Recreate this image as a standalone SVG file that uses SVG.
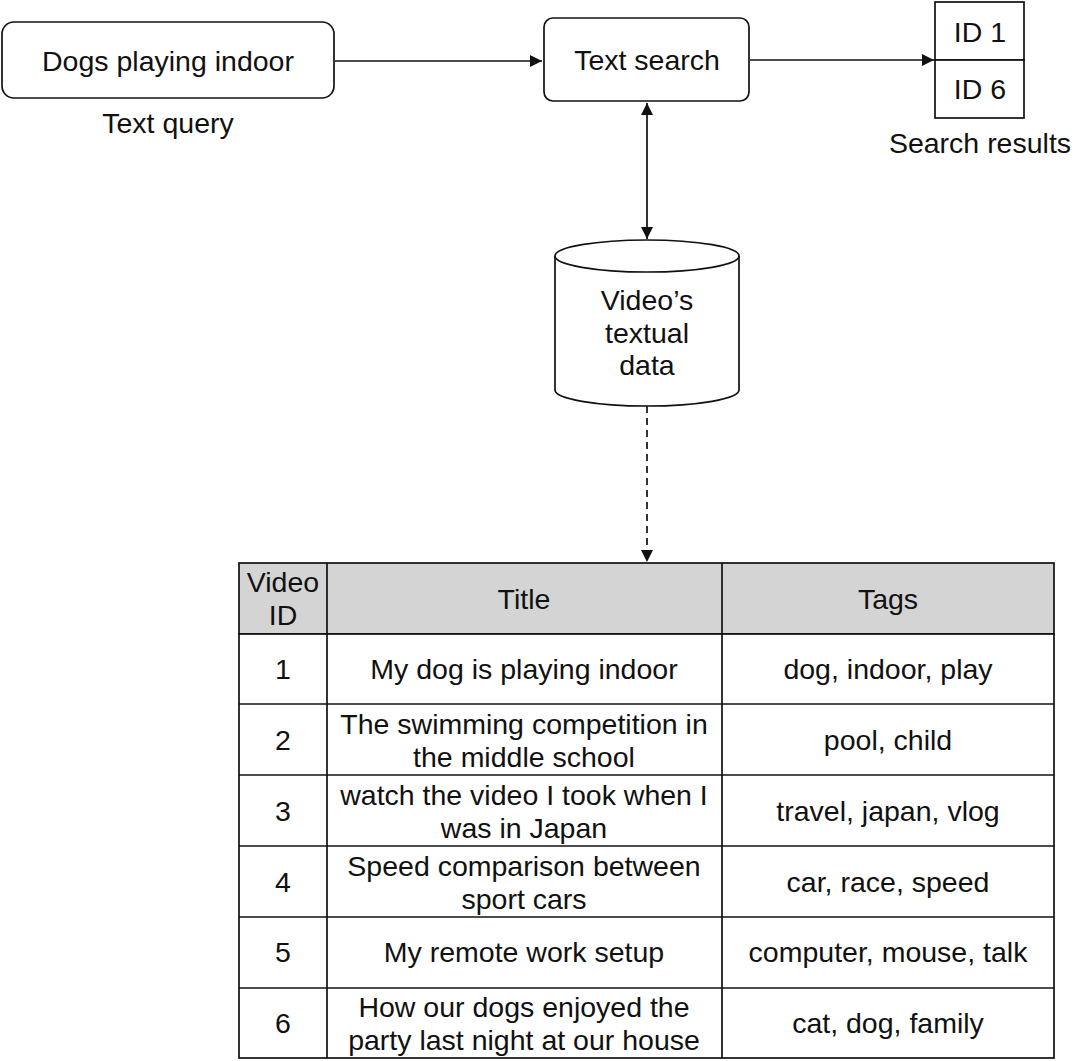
<svg xmlns="http://www.w3.org/2000/svg" width="1080" height="1061" viewBox="0 0 1080 1061">
<defs>
<style>
.t{font-family:"Liberation Sans",Arial,Helvetica,sans-serif;font-size:28.5px;fill:#111;text-anchor:middle}
.b{fill:#fff;stroke:#111;stroke-width:1.7}
.l{fill:none;stroke:#111;stroke-width:1.7}
.h{fill:#d4d4d4;stroke:#111;stroke-width:1.7}
</style>
<marker id="ahs" viewBox="0 0 10 10" refX="10" refY="5" markerWidth="13" markerHeight="12" markerUnits="userSpaceOnUse" orient="auto-start-reverse">
<path d="M0,0 L10,5 L0,10 z" fill="#111"/>
</marker>
</defs>
<rect width="1080" height="1061" fill="#fff"/>
<g id="connectors">
<line class="l" x1="335" y1="61" x2="542" y2="61" marker-end="url(#ahs)"/>
<line class="l" x1="750" y1="60" x2="934" y2="60" marker-end="url(#ahs)"/>
<line class="l" x1="647" y1="103" x2="647" y2="239" marker-start="url(#ahs)" marker-end="url(#ahs)"/>
<line class="l" x1="647" y1="406" x2="647" y2="562" stroke-dasharray="7,5" marker-end="url(#ahs)"/>
</g>
<g id="query">
<rect class="b" x="2" y="22" width="332" height="76" rx="12"/>
<text class="t" x="168" y="71">Dogs playing indoor</text>
<text class="t" x="168" y="133">Text query</text>
</g>
<g id="search">
<rect class="b" x="544" y="18" width="205" height="83" rx="9"/>
<text class="t" x="647" y="70">Text search</text>
</g>
<g id="results">
<rect class="b" x="935" y="2" width="89" height="58"/>
<rect class="b" x="935" y="60" width="89" height="58"/>
<text class="t" x="980" y="42">ID 1</text>
<text class="t" x="980" y="99">ID 6</text>
<text class="t" x="980" y="153">Search results</text>
</g>
<g id="database">
<path class="b" d="M555,256 L555,390 A92,16 0 0 0 739,390 L739,256"/>
<ellipse class="b" cx="647" cy="256" rx="92" ry="16"/>
<text class="t" x="647" y="310">Video’s</text>
<text class="t" x="647" y="343">textual</text>
<text class="t" x="647" y="375">data</text>
</g>
<g id="table">
<rect class="h" x="239" y="563" width="815" height="71"/>
<rect class="b" x="239" y="634" width="815" height="424"/>
<line class="l" x1="327" y1="563" x2="327" y2="1058"/>
<line class="l" x1="722" y1="563" x2="722" y2="1058"/>
<line class="l" x1="239" y1="704" x2="1054" y2="704"/>
<line class="l" x1="239" y1="775" x2="1054" y2="775"/>
<line class="l" x1="239" y1="846" x2="1054" y2="846"/>
<line class="l" x1="239" y1="917" x2="1054" y2="917"/>
<line class="l" x1="239" y1="988" x2="1054" y2="988"/>
<text class="t" x="283" y="592">Video</text>
<text class="t" x="283" y="625">ID</text>
<text class="t" x="524" y="609">Title</text>
<text class="t" x="888" y="609">Tags</text>
<text class="t" x="283" y="679">1</text>
<text class="t" x="524" y="679">My dog is playing indoor</text>
<text class="t" x="888" y="679">dog, indoor, play</text>
<text class="t" x="283" y="750">2</text>
<text class="t" x="524" y="734">The swimming competition in</text>
<text class="t" x="524" y="767">the middle school</text>
<text class="t" x="888" y="750">pool, child</text>
<text class="t" x="283" y="821">3</text>
<text class="t" x="524" y="805">watch the video I took when I</text>
<text class="t" x="524" y="838">was in Japan</text>
<text class="t" x="888" y="821">travel, japan, vlog</text>
<text class="t" x="283" y="892">4</text>
<text class="t" x="524" y="876">Speed comparison between</text>
<text class="t" x="524" y="909">sport cars</text>
<text class="t" x="888" y="892">car, race, speed</text>
<text class="t" x="283" y="962">5</text>
<text class="t" x="524" y="962">My remote work setup</text>
<text class="t" x="888" y="962">computer, mouse, talk</text>
<text class="t" x="283" y="1033">6</text>
<text class="t" x="524" y="1017">How our dogs enjoyed the</text>
<text class="t" x="524" y="1050">party last night at our house</text>
<text class="t" x="888" y="1033">cat, dog, family</text>
</g>
</svg>
